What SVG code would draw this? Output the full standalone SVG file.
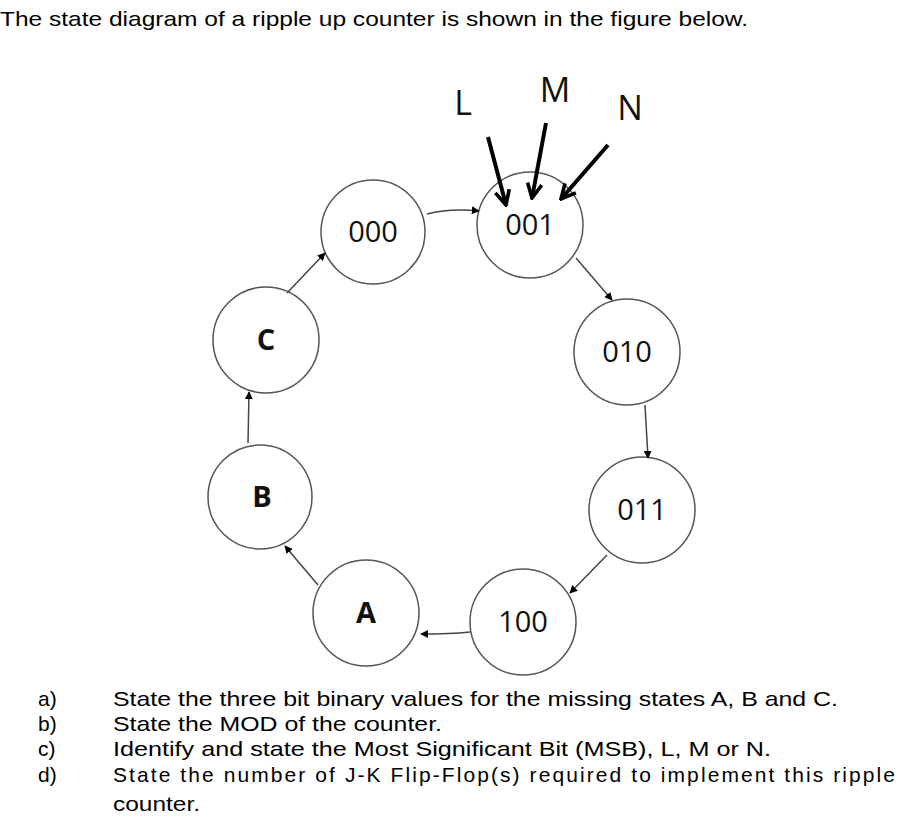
<svg xmlns="http://www.w3.org/2000/svg" width="899" height="829" viewBox="0 0 899 829">
<style>
.n{fill:#fff;stroke:#555;stroke-width:1.5}
.t{font-family:"Open Sans","Liberation Sans",sans-serif;font-size:29px;fill:#111;text-anchor:middle}
.b{font-weight:bold}
.c{fill:none;stroke:#444;stroke-width:1.5;marker-end:url(#a)}
.k{fill:none;stroke:#000;stroke-width:4;marker-end:url(#k)}
.q{font-family:"Liberation Sans",Arial,sans-serif;font-size:21px;fill:#000}
.lb{font-family:"Open Sans","Liberation Sans",sans-serif;font-size:34px;fill:#111;text-anchor:middle}
</style>
<defs>
<marker id="a" viewBox="0 0 10 10" refX="9" refY="5" markerWidth="8" markerHeight="8" markerUnits="userSpaceOnUse" orient="auto"><path d="M0,0L10,5L0,10z" fill="#000"/></marker>
<marker id="k" viewBox="0 0 10 10" refX="9" refY="5" markerWidth="18" markerHeight="18" markerUnits="userSpaceOnUse" orient="auto"><path d="M1,1L9,5L1,9" fill="none" stroke="#000" stroke-width="2"/></marker>
</defs>
<rect width="899" height="829" fill="#fff"/>
<text class="q" x="0" y="26" textLength="748" lengthAdjust="spacingAndGlyphs">The state diagram of a ripple up counter is shown in the figure below.</text>
<g id="s000"><circle class="n" cx="373" cy="232" r="52"/><text class="t" x="373" y="242">000</text></g>
<g id="s001"><circle class="n" cx="530" cy="225" r="53"/><text class="t" x="530" y="235">001</text></g>
<g id="s010"><circle class="n" cx="627" cy="352" r="53"/><text class="t" x="627" y="362">010</text></g>
<g id="s011"><circle class="n" cx="642" cy="510" r="53"/><text class="t" x="642" y="520">011</text></g>
<g id="s100"><circle class="n" cx="523" cy="622" r="53"/><text class="t" x="523" y="632">100</text></g>
<g id="sA"><circle class="n" cx="366" cy="613" r="53"/><text class="t b" x="366" y="623">A</text></g>
<g id="sB"><circle class="n" cx="260" cy="497" r="52"/><text class="t b" x="262" y="507">B</text></g>
<g id="sC"><circle class="n" cx="266" cy="340" r="53"/><text class="t b" x="266" y="350">C</text></g>
<g id="connectors">
<path class="c" d="M427,214 Q450,208 479,211"/>
<path class="c" d="M576,258 L612,300"/>
<path class="c" d="M645,405 L648,458"/>
<path class="c" d="M607,555 L570,593"/>
<path class="c" d="M470,632 Q450,634 421,634"/>
<path class="c" d="M318,585 L285,546"/>
<path class="c" d="M248,443 L249,392"/>
<path class="c" d="M287,293 L325,253"/>
<path class="k" d="M488,137 L506,205"/>
<path class="k" d="M546,123 L532,198"/>
<path class="k" d="M608,145 L561,199"/>
</g>
<g id="lbl"><text class="lb" x="463" y="115">L</text><text class="lb" x="555" y="102">M</text><text class="lb" x="630" y="120">N</text></g>
<g class="q">
<text x="38" y="706">a)</text><text x="113" y="706" textLength="725" lengthAdjust="spacingAndGlyphs">State the three bit binary values for the missing states A, B and C.</text>
<text x="38" y="731">b)</text><text x="113" y="731" textLength="329" lengthAdjust="spacingAndGlyphs">State the MOD of the counter.</text>
<text x="38" y="756">c)</text><text x="113" y="756" textLength="658" lengthAdjust="spacingAndGlyphs">Identify and state the Most Significant Bit (MSB), L, M or N.</text>
<text x="38" y="782">d)</text><text x="113" y="782" textLength="782" lengthAdjust="spacing">State the number of J-K Flip-Flop(s) required to implement this ripple</text>
<text x="113" y="811" textLength="87" lengthAdjust="spacingAndGlyphs">counter.</text>
</g>
</svg>
